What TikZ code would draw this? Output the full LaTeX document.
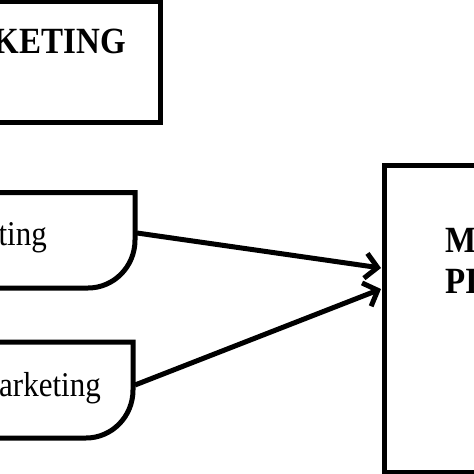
\documentclass[tikz,border=0pt]{standalone}
\usepackage{fontspec}
\usepackage{graphicx}
\setmainfont{Liberation Serif}
\usetikzlibrary{arrows.meta}
\newcommand{\tall}[1]{\scalebox{1}[1.12]{#1}}
\tikzset{
  boxline/.style={line width=5pt, line join=miter},
  lbl/.style={inner sep=0pt, font=\fontsize{31}{38}\selectfont},
  blbl/.style={inner sep=0pt, font=\fontsize{33}{40}\selectfont\bfseries},
  conn/.style={line width=5pt, -{Straight Barb[length=12pt,width=25pt]}}
}
\begin{document}
\begin{tikzpicture}[x=1pt,y=-1pt]
\useasboundingbox (0,0) rectangle (474,474);
\clip (0,0) rectangle (474,474);
% top box
\draw[boxline] (-60,1.5) rectangle (160,122);
\node[blbl, anchor=base east] (top) at (126,53) {\tall{KETING}};
% box 1
\draw[boxline] (-60,192.5) -- (135,192.5) -- (135,240)
  .. controls (135,266.5) and (114,288) .. (88,288) -- (-60,288);
\node[lbl, anchor=base east] (t1) at (47,245) {\tall{ting}};
\coordinate (b1) at (137,233);
% box 2
\draw[boxline] (-60,342) -- (133,342) -- (133,390)
  .. controls (133,416.5) and (112,438) .. (86,438) -- (-60,438);
\node[lbl, anchor=base east] (t2) at (101,396) {\tall{arketing}};
\coordinate (b2) at (135,385);
% big box
\draw[boxline] (384,165) rectangle (540,472);
\node[blbl, anchor=base west] (m1) at (445,252) {\tall{M}};
\node[blbl, anchor=base west] (m2) at (445,293) {\tall{PI}};
\coordinate (e1) at (381,268);
\coordinate (e2) at (381,289);
% connectors
\draw[conn] (b1) -- (e1);
\draw[conn] (b2) -- (e2);
\end{tikzpicture}
\end{document}
